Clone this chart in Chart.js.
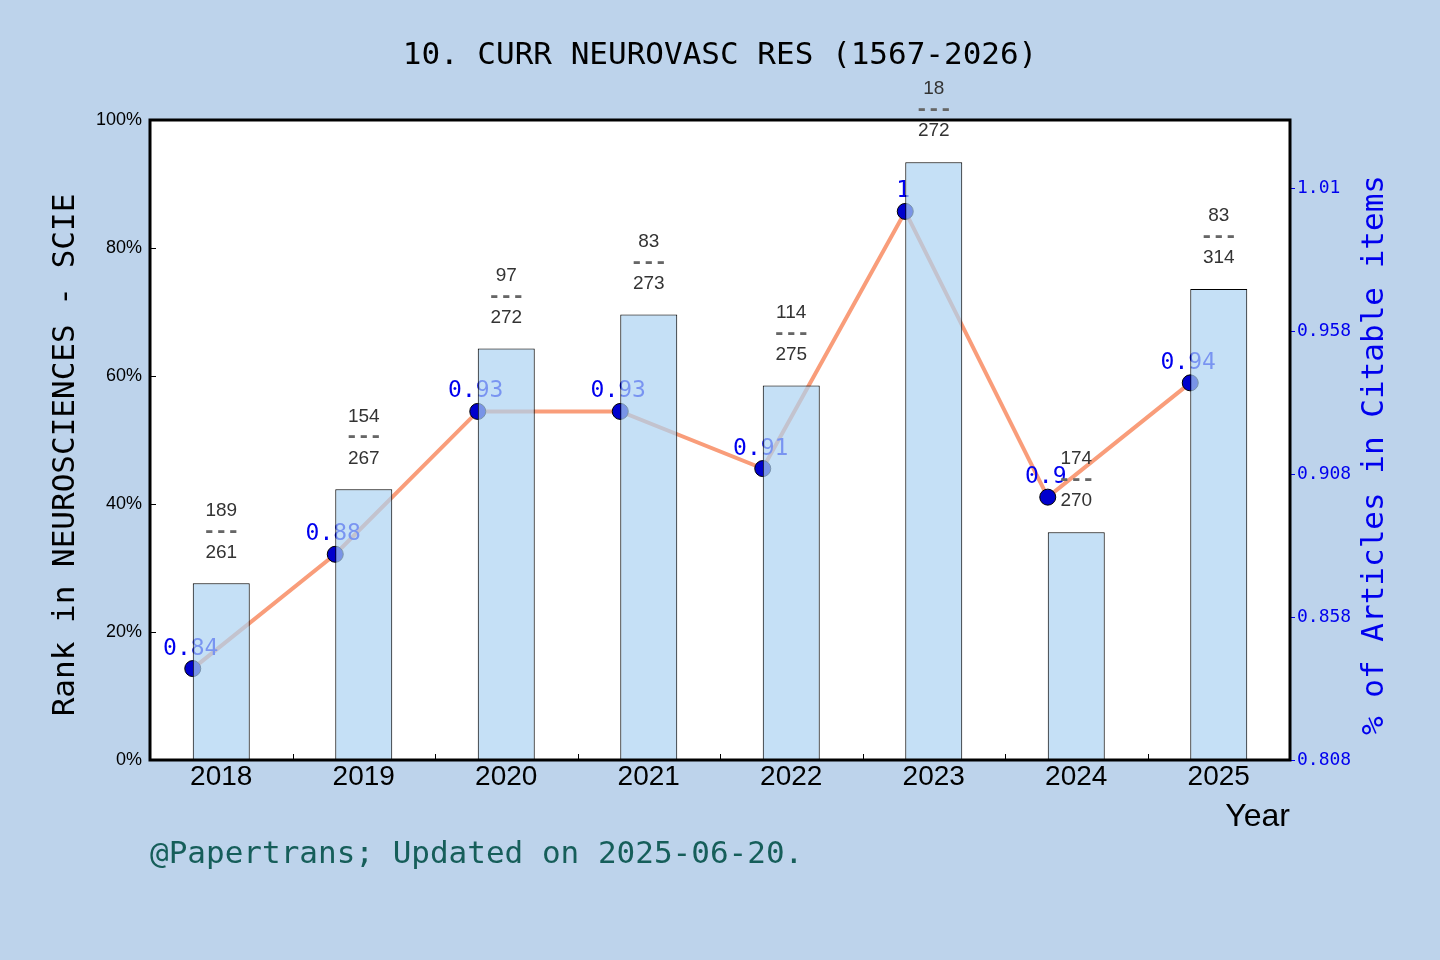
<!DOCTYPE html>
<html>
<head>
<meta charset="utf-8">
<script src="https://cdn.jsdelivr.net/npm/chart.js@4.4.1/dist/chart.umd.min.js"></script>
<style>
  html, body { margin: 0; padding: 0; background: #bdd3eb; }
  canvas { display: block; }
</style>
</head>
<body>
<canvas id="chart" width="1440" height="960"></canvas>
<script>
// values
const years = ['2018', '2019', '2020', '2021', '2022', '2023', '2024', '2025'];
const rankPct = [27.6, 42.3, 64.3, 69.6, 58.5, 93.4, 35.6, 73.6];
const ranks = [189, 154, 97, 83, 114, 18, 174, 83];
const totals = [261, 267, 272, 273, 275, 272, 270, 314];
const citable = [0.84, 0.88, 0.93, 0.93, 0.91, 1.0, 0.90, 0.94];
const citableLabels = ['0.84', '0.88', '0.93', '0.93', '0.91', '1', '0.9', '0.94'];
const rightTicks = [0.808, 0.858, 0.908, 0.958, 1.008];

const mono = '"DejaVu Sans Mono", "Liberation Mono", monospace';
const sans = '"Liberation Sans", Arial, sans-serif';
const BG = '#bdd3eb';
const BLUE = '#0000ee';

const decor = {
    id: 'decor',
    beforeDraw(chart) {
        const { ctx, chartArea: a } = chart;
        ctx.save();
        ctx.fillStyle = BG;
        ctx.fillRect(0, 0, chart.width, chart.height);
        ctx.fillStyle = '#ffffff';
        ctx.fillRect(a.left, a.top, a.right - a.left, a.bottom - a.top);
        ctx.restore();
    },
    afterDatasetDraw(chart, args) {
        // labels of the line sit under the translucent bars
        if (args.index !== 1) return;
        const ctx = chart.ctx;
        ctx.save();
        ctx.font = '23px ' + mono;
        ctx.fillStyle = BLUE;
        ctx.textAlign = 'center';
        ctx.textBaseline = 'alphabetic';
        args.meta.data.forEach((p, i) => {
            ctx.fillText(citableLabels[i], p.x - 2, p.y - 14);
        });
        ctx.restore();
    },
    afterDatasetsDraw(chart) {
        const { ctx, chartArea: a, scales } = chart;
        ctx.save();
        // inner ticks
        ctx.strokeStyle = '#000';
        ctx.lineWidth = 1;
        ctx.beginPath();
        scales.y.ticks.forEach(t => {
            const y = Math.round(scales.y.getPixelForValue(t.value)) + 0.5;
            ctx.moveTo(a.left, y);
            ctx.lineTo(a.left + 6, y);
        });
        for (let k = 1; k < years.length; k++) {
            const x = Math.round(scales.x2.getPixelForValue(k - 0.5)) + 0.5;
            ctx.moveTo(x, a.bottom);
            ctx.lineTo(x, a.bottom - 6);
        }
        ctx.stroke();
        // frame
        ctx.lineWidth = 3;
        ctx.strokeRect(a.left, a.top, a.right - a.left, a.bottom - a.top);

        // rank / total above each bar
        const bars = chart.getDatasetMeta(0).data;
        ctx.textAlign = 'center';
        ctx.textBaseline = 'middle';
        bars.forEach((b, i) => {
            ctx.fillStyle = '#333';
            ctx.font = '19px ' + sans;
            ctx.fillText(String(ranks[i]), b.x, b.y - 73);
            ctx.fillText(String(totals[i]), b.x, b.y - 31);
            ctx.fillStyle = '#666';
            ctx.font = 'bold 20px ' + mono;
            ctx.fillText('---', b.x, b.y - 52);
        });
        ctx.restore();
    },
    afterDraw(chart) {
        const ctx = chart.ctx;
        ctx.save();
        ctx.textBaseline = 'middle';

        ctx.fillStyle = '#000';
        ctx.font = '31px ' + mono;
        ctx.textAlign = 'center';
        ctx.fillText('10. CURR NEUROVASC RES (1567-2026)', 720, 56);

        ctx.fillStyle = '#165e5a';
        ctx.textAlign = 'left';
        ctx.fillText('@Papertrans; Updated on 2025-06-20.', 150, 855);

        ctx.fillStyle = '#000';
        ctx.font = '32px ' + sans;
        ctx.textAlign = 'right';
        ctx.fillText('Year', 1290, 817);

        ctx.font = '31px ' + mono;
        ctx.textAlign = 'center';
        ctx.save();
        ctx.translate(66, 455);
        ctx.rotate(-Math.PI / 2);
        ctx.fillText('Rank in NEUROSCIENCES - SCIE', 0, 0);
        ctx.restore();

        ctx.fillStyle = BLUE;
        ctx.save();
        ctx.translate(1375, 455);
        ctx.rotate(-Math.PI / 2);
        ctx.fillText('% of Articles in Citable items', 0, 0);
        ctx.restore();

        ctx.restore();
    }
};

new Chart(document.getElementById('chart').getContext('2d'), {
    type: 'bar',
    data: {
        labels: years,
        datasets: [
            {
                type: 'bar',
                label: 'Rank',
                data: rankPct,
                backgroundColor: 'rgba(172,211,242,0.7)',
                borderColor: '#000',
                borderWidth: 1,
                borderSkipped: false,
                grouped: false,
                barPercentage: 0.4,
                categoryPercentage: 1,
                xAxisID: 'x',
                yAxisID: 'y',
                order: 0
            },
            {
                type: 'line',
                label: 'Citable',
                data: citable.map((v, i) => ({ x: i - 0.2, y: v })),
                borderColor: '#f99d7a',
                borderWidth: 4,
                pointRadius: 8,
                pointBackgroundColor: '#0000cd',
                pointBorderColor: '#000',
                pointBorderWidth: 1,
                tension: 0,
                xAxisID: 'x2',
                yAxisID: 'y2',
                order: 1,
                clip: false
            }
        ]
    },
    options: {
        responsive: false,
        animation: false,
        devicePixelRatio: 1,
        layout: { padding: { top: 120, left: 0, right: 0, bottom: 0 } },
        plugins: {
            legend: { display: false },
            tooltip: { enabled: false }
        },
        scales: {
            x: {
                type: 'category',
                position: 'bottom',
                offset: true,
                grid: { display: false, drawTicks: false },
                border: { display: false },
                ticks: { color: '#000', font: { family: sans, size: 28 }, padding: 0, maxRotation: 0 },
                afterFit: s => { s.height = 200; }
            },
            x2: {
                type: 'linear',
                display: false,
                offset: false,
                min: -0.5,
                max: 7.5
            },
            y: {
                position: 'left',
                min: 0,
                max: 100,
                grid: { display: false, drawTicks: false },
                border: { display: false },
                ticks: {
                    stepSize: 20,
                    padding: 8,
                    color: '#000',
                    font: { family: sans, size: 18 },
                    callback: v => v + '%'
                },
                afterFit: s => { s.width = 150; }
            },
            y2: {
                position: 'right',
                min: 0.808,
                max: 1.032,
                grid: { drawOnChartArea: false, drawTicks: true, tickLength: 5, color: BLUE },
                border: { display: false },
                ticks: {
                    padding: 2,
                    color: BLUE,
                    font: { family: mono, size: 18 },
                    callback: v => String(Number(Number(v).toPrecision(3)))
                },
                afterBuildTicks: s => { s.ticks = rightTicks.map(v => ({ value: v })); },
                afterFit: s => { s.width = 150; }
            }
        }
    },
    plugins: [decor]
});
</script>
</body>
</html>
